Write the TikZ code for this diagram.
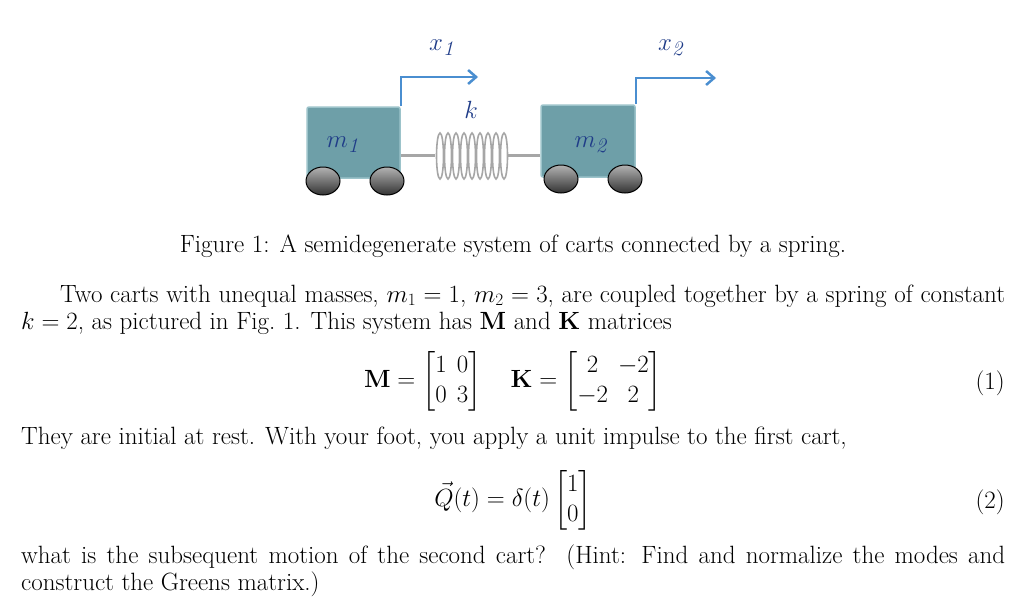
\documentclass[tikz,border=0pt]{standalone}
\usepackage{amsmath}
\usetikzlibrary{arrows.meta,shapes.geometric}
\definecolor{cart}{HTML}{6E9FA8}
\definecolor{cartedge}{HTML}{9CC3CA}
\definecolor{arr}{HTML}{4A8ED0}
\definecolor{lab}{HTML}{1F3C88}
\tikzset{
  cartbox/.style={fill=cart,draw=cartedge,line width=1.5pt,rounded corners=2pt},
  wheel/.style={ellipse, minimum width=34pt, minimum height=28pt, inner sep=0pt, draw=black, line width=1pt, top color=gray!60, bottom color=black!80},
  posarrow/.style={draw=arr,line width=2.5pt,-{Straight Barb[length=8pt,width=14pt]}},
  rod/.style={draw=gray!70,line width=3pt},
  lbl/.style={text=lab,font=\fontsize{32}{36}\selectfont\itshape},
  txt/.style={anchor=base west,inner sep=0pt,font=\fontsize{25}{30}\selectfont},
}
\begin{document}
\begin{tikzpicture}[x=1pt,y=-1pt]
\useasboundingbox (0,0) rectangle (1024,602);
% carts
\node[cartbox,minimum width=93pt,minimum height=71pt,inner sep=0pt] (c1) at (353.5,142.5) {};
\node[cartbox,minimum width=94pt,minimum height=72pt,inner sep=0pt] (c2) at (588,141) {};
\node[lbl] (m1) at (344,145) {$m_{\mathit 1}$};
\node[lbl] (m2) at (592,145) {$m_{\mathit 2}$};
% spring
\coordinate (s1) at (435,155);
\coordinate (s2) at (508,155);
\draw[rod] (c1.east |- s1) -- (s1);
\draw[rod] (s2) -- (c2.west |- s2);
\foreach \i in {0,...,8} {
  \draw[gray!70,line width=1.6pt] (440+8*\i,156) ellipse[x radius=3.5,y radius=23];
}
% wheels
\node[wheel] (w1) at (323,181) {};
\node[wheel] (w2) at (387,181) {};
\node[wheel] (w3) at (561,179) {};
\node[wheel] (w4) at (625,179) {};
% position arrows
\coordinate (a1) at (478,77);
\coordinate (a2) at (716,78);
\draw[posarrow] (c1.north east) |- (a1);
\draw[posarrow] (c2.north east) |- (a2);
\node[lbl] (x1) at (443,48) {$x_{\mathit 1}$};
\node[lbl] (x2) at (672,48) {$x_{\mathit 2}$};
\node[lbl] (k) at (471,110) {$k$};
% text
\node[txt,anchor=base] (cap) at (513,252) {Figure 1: A semidegenerate system of carts connected by a spring.};
\node[txt] (l1) at (60,302) {\makebox[945pt][s]{Two carts with unequal masses, $m_1=1$, $m_2=3$, are coupled together by a spring of constant}};
\node[txt] (l2) at (21,329) {$k=2$, as pictured in Fig.~1. This system has $\mathbf{M}$ and $\mathbf{K}$ matrices};
\node[txt,anchor=center] (e1) at (513,381) {$\mathbf{M}=\begin{bmatrix}1&0\\0&3\end{bmatrix}\quad\mathbf{K}=\begin{bmatrix}2&-2\\-2&2\end{bmatrix}$};
\node[txt,anchor=base east] (n1) at (1005,389) {(1)};
\node[txt] (l3) at (21,444) {They are initial at rest. With your foot, you apply a unit impulse to the first cart,};
\node[txt,anchor=center] (e2) at (513,500) {$\vec{Q}(t)=\delta(t)\begin{bmatrix}1\\0\end{bmatrix}$};
\node[txt,anchor=base east] (n2) at (1005,508) {(2)};
\node[txt] (l4) at (21,563) {\makebox[984pt][s]{what is the subsequent motion of the second cart?\ \ (Hint: Find and normalize the modes and}};
\node[txt] (l5) at (21,590) {construct the Greens matrix.)};
\end{tikzpicture}
\end{document}
